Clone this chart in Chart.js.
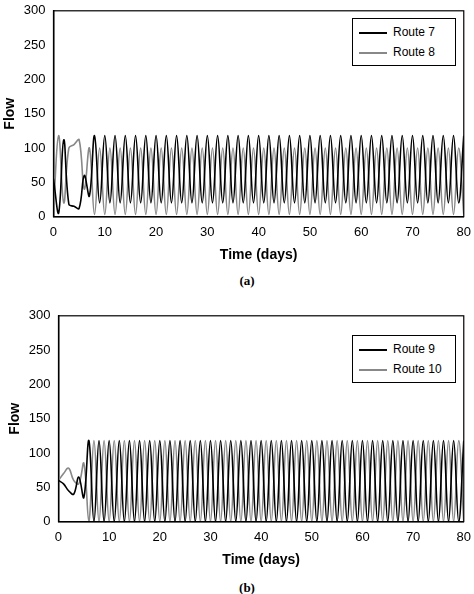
<!DOCTYPE html><html><head><script src="https://cdn.jsdelivr.net/npm/chart.js@4"></script>
<style>body{margin:0;background:#fff;font-family:Arial,"Liberation Sans",sans-serif}
.w{position:absolute;left:0;width:474px;height:270px}
.lg{position:absolute;border:1px solid #000;background:#fff;font-size:12px;padding:3px 6px;line-height:20px}
.lg span{display:inline-block;width:28px;height:0;border-top:2px solid;vertical-align:middle;margin-right:6px}
.cap{position:absolute;width:474px;text-align:center;font:bold 13px "Liberation Serif",serif;left:10px}
</style></head><body>
<div class="w" style="top:0"><canvas id="c1"></canvas></div>
<div class="w" style="top:305px"><canvas id="c2"></canvas></div>
<div class="lg" style="left:352px;top:18px;width:90px"><div><span style="border-color:#000"></span>Route 7</div><div><span style="border-color:#888"></span>Route 8</div></div>
<div class="lg" style="left:352px;top:335px;width:90px"><div><span style="border-color:#000"></span>Route 9</div><div><span style="border-color:#888"></span>Route 10</div></div>
<div class="cap" style="top:273px">(a)</div>
<div class="cap" style="top:580px">(b)</div>
<script>
const days=[0,1,2,3,4,5,6,7,8,9,10,11,12,13,14,15,16,17,18,19,20,21,22,23,24,25,26,27,28,29,30,31,32,33,34,35,36,37,38,39,40,41,42,43,44,45,46,47,48,49,50,51,52,53,54,55,56,57,58,59,60,61,62,63,64,65,66,67,68,69,70,71,72,73,74,75,76,77,78,79,80];
const route7=[55,5,112,18,15,12,60,30,118,20,118,20,118,20,118,20,118,20,118,20,118,20,118,20,118,20,118,20,118,20,118,20,118,20,118,20,118,20,118,20,118,20,118,20,118,20,118,20,118,20,118,20,118,20,118,20,118,20,118,20,118,20,118,20,118,20,118,20,118,20,118,20,118,20,118,20,118,20,118,20,118];
const route8=[10,118,20,100,105,112,40,100,3,100,3,100,3,100,3,100,3,100,3,100,3,100,3,100,3,100,3,100,3,100,3,100,3,100,3,100,3,100,3,100,3,100,3,100,3,100,3,100,3,100,3,100,3,100,3,100,3,100,3,100,3,100,3,100,3,100,3,100,3,100,3,100,3,100,3,100,3,100,3,100,3];
const route9=[60,55,45,40,65,35,118,0,118,0,118,0,118,0,118,0,118,0,118,0,118,0,118,0,118,0,118,0,118,0,118,0,118,0,118,0,118,0,118,0,118,0,118,0,118,0,118,0,118,0,118,0,118,0,118,0,118,0,118,0,118,0,118,0,118,0,118,0,118,0,118,0,118,0,118,0,118,0,118,0,118];
const route10=[60,70,78,60,55,85,0,118,0,118,0,118,0,118,0,118,0,118,0,118,0,118,0,118,0,118,0,118,0,118,0,118,0,118,0,118,0,118,0,118,0,118,0,118,0,118,0,118,0,118,0,118,0,118,0,118,0,118,0,118,0,118,0,118,0,118,0,118,0,118,0,118,0,118,0,118,0,118,0,118,0];
const xTicks=[0,10,20,30,40,50,60,70,80];
const frame={id:'frame',afterDraw(c){const a=c.chartArea,x=c.ctx;x.save();x.strokeStyle='#000';x.lineWidth=1.2;x.strokeRect(a.left,a.top,a.right-a.left,a.bottom-a.top);x.restore();}};
function mk(id,a,b,pad){
 const pts=v=>days.map((d,i)=>({x:d,y:v[i]}));
 new Chart(document.getElementById(id),{type:'line',plugins:[frame],
  data:{datasets:[{data:pts(a),borderColor:'#000',borderWidth:1.6,pointRadius:0,tension:0.4},
                  {data:pts(b),borderColor:'#888',borderWidth:1.6,pointRadius:0,tension:0.4}]},
  options:{responsive:false,animation:false,maintainAspectRatio:false,
   layout:{padding:pad},
   plugins:{legend:{display:false},tooltip:{enabled:false}},
   scales:{x:{type:'linear',min:0,max:80,afterBuildTicks:s=>{s.ticks=xTicks.map(v=>({value:v}))},
     grid:{display:false,drawTicks:true,tickLength:5,color:'#000'},border:{color:'#000',width:1.5},
     ticks:{color:'#000',font:{size:13},maxRotation:0,padding:3},
     title:{display:true,text:'Time (days)',color:'#000',font:{size:14,weight:'bold'},padding:{top:4,bottom:0}}},
    y:{min:0,max:300,ticks:{stepSize:50,color:'#000',font:{size:13}},
     grid:{display:false,tickLength:5},border:{color:'#000',width:1.5},
     title:{display:true,text:'Flow',color:'#000',font:{size:14,weight:'bold'},padding:2}}}}});
}
const c1=document.getElementById('c1'),c2=document.getElementById('c2');
c1.width=474;c1.height=270;c2.width=474;c2.height=270;
mk('c1',route7,route8,{top:3,right:0,bottom:6,left:0});
mk('c2',route9,route10,{top:4,right:5,bottom:6,left:5});
</script></body></html>
